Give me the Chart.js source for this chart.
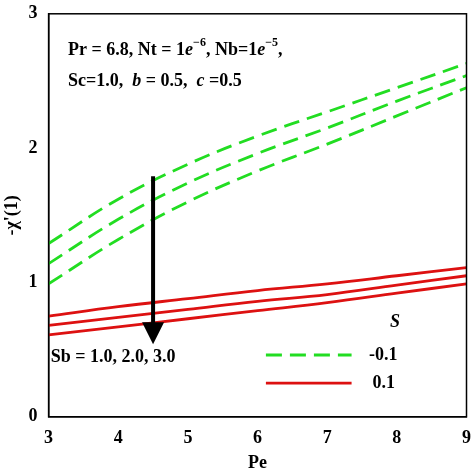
<!DOCTYPE html><html><head><script src="https://cdn.jsdelivr.net/npm/chart.js"></script>
<style>body{margin:0;background:#fff}#w{width:474px;height:474px}</style></head><body><div id="w"><canvas id="c"></canvas></div>
<script>
const pe=[3,4,5,6,7,8,9];
const g1=[1.29,1.62,1.88,2.09,2.27,2.45,2.63];
const g2=[1.14,1.47,1.74,1.96,2.15,2.35,2.54];
const g3=[0.99,1.32,1.60,1.83,2.03,2.24,2.45];
const r1=[0.75,0.82,0.88,0.94,0.99,1.05,1.11];
const r2=[0.68,0.74,0.80,0.86,0.91,0.98,1.05];
const r3=[0.61,0.67,0.73,0.79,0.85,0.92,0.99];
const xTicks=[3,4,5,6,7,8,9], yTicks=[0,1,2,3];
const G='#22dd22',R='#dd1111',F='Liberation Serif';
const mk=(d,c,dash)=>({data:pe.map((x,i)=>({x,y:d[i]})),borderColor:c,borderWidth:2.8,borderDash:dash,pointRadius:0,tension:0.4,fill:false});
const deco={id:'deco',afterDatasetsDraw(ch){const c=ch.ctx,x=ch.scales.x,y=ch.scales.y;c.save();
c.fillStyle='#000';c.font='bold 18px '+F;c.textBaseline='middle';
let px=x.getPixelForValue(3.28),py=y.getPixelForValue(2.73);
const parts=[['Pr = 6.8, Nt = 1',0],['e',0,'italic bold 18px '],['−6',-7,'bold 12px '],[', Nb=1',0],['e',0,'italic bold 18px '],['−5',-7,'bold 12px '],[',',0]];
for(const p of parts){c.font=(p[2]||'bold 18px ')+F;c.fillText(p[0],px,py+p[1]);px+=c.measureText(p[0]).width;}
px=x.getPixelForValue(3.28);py=y.getPixelForValue(2.5);
const p2=[['Sc=1.0,  ',''],['b','italic '],[' = 0.5,  ',''],['c','italic '],[' =0.5','']];
for(const p of p2){c.font=p[1]+'bold 18px '+F;c.fillText(p[0],px,py);px+=c.measureText(p[0]).width;}
c.font='bold 18px '+F;c.fillText('Sb = 1.0, 2.0, 3.0',x.getPixelForValue(3.03),y.getPixelForValue(0.44));
c.font='italic bold 18px '+F;c.fillText('S',x.getPixelForValue(7.9),y.getPixelForValue(0.70));
c.font='bold 18px '+F;c.fillText('-0.1',x.getPixelForValue(7.6),y.getPixelForValue(0.46));c.fillText('0.1',x.getPixelForValue(7.65),y.getPixelForValue(0.25));
c.lineWidth=2.8;c.strokeStyle=G;c.setLineDash([16,8]);c.beginPath();c.moveTo(x.getPixelForValue(6.12),y.getPixelForValue(0.46));c.lineTo(x.getPixelForValue(7.35),y.getPixelForValue(0.46));c.stroke();
c.setLineDash([]);c.strokeStyle=R;c.beginPath();c.moveTo(x.getPixelForValue(6.12),y.getPixelForValue(0.25));c.lineTo(x.getPixelForValue(7.35),y.getPixelForValue(0.25));c.stroke();
const ax=x.getPixelForValue(4.5),t=y.getPixelForValue(1.79),b=y.getPixelForValue(0.54);
c.strokeStyle='#000';c.lineWidth=4;c.beginPath();c.moveTo(ax,t);c.lineTo(ax,b-18);c.stroke();
c.beginPath();c.moveTo(ax-11,b-22);c.lineTo(ax+11,b-22);c.lineTo(ax,b);c.closePath();c.fill();
c.restore();}};
new Chart(document.getElementById('c'),{type:'line',data:{datasets:[mk(g1,G,[16,8]),mk(g2,G,[16,8]),mk(g3,G,[16,8]),mk(r1,R,[]),mk(r2,R,[]),mk(r3,R,[])]},
options:{responsive:true,maintainAspectRatio:false,animation:false,layout:{padding:{top:4,right:4}},plugins:{legend:{display:false},tooltip:{enabled:false}},
scales:{x:{type:'linear',min:3,max:9,afterBuildTicks:a=>{a.ticks=xTicks.map(v=>({value:v}))},grid:{display:false},border:{color:'#000',width:1.5},ticks:{color:'#000',font:{family:F,size:18,weight:'bold'}},title:{display:true,text:'Pe',color:'#000',font:{family:F,size:18,weight:'bold'},padding:0}},
y:{min:0,max:3,afterBuildTicks:a=>{a.ticks=yTicks.map(v=>({value:v}))},grid:{display:false},border:{color:'#000',width:1.5},ticks:{color:'#000',font:{family:F,size:18,weight:'bold'}},title:{display:true,text:"-χ'(1)",color:'#000',font:{family:F,size:18,weight:'bold'},padding:2}}}},
plugins:[deco,{id:'frame',afterDraw(ch){const a=ch.chartArea,c=ch.ctx;c.save();c.strokeStyle='#000';c.lineWidth=1.5;c.strokeRect(a.left,a.top,a.right-a.left,a.bottom-a.top);c.restore();}}]});
</script></body></html>
